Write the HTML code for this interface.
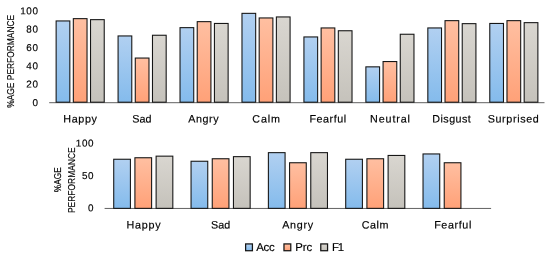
<!DOCTYPE html>
<html lang="en"><head><meta charset="utf-8"><title>Performance charts</title>
<style>
html,body{margin:0;padding:0;background:#fff;}
body{width:550px;height:257px;overflow:hidden;}
svg{display:block;}
text{font-family:"Liberation Sans",sans-serif;text-rendering:geometricPrecision;fill:#000;stroke:#000;stroke-width:0.16px;}
.bar{stroke:#151515;stroke-width:1.08;}
.ax{stroke:#505050;stroke-width:0.9;fill:none;}
.tk{font-size:9.9px;text-anchor:end;letter-spacing:0.65px;}
.cat{font-size:10.75px;}
.ttl{font-size:10.0px;text-anchor:middle;}
.lg{font-size:11.4px;}
</style></head><body>
<svg width="550" height="257" viewBox="0 0 550 257">
<defs>
<linearGradient id="gb" x1="0" y1="0" x2="0" y2="1"><stop offset="0" stop-color="#b1d0f1"/><stop offset="1" stop-color="#84bbec"/></linearGradient>
<linearGradient id="go" x1="0" y1="0" x2="0" y2="1"><stop offset="0" stop-color="#ffbfa1"/><stop offset="1" stop-color="#ffa178"/></linearGradient>
<linearGradient id="gg" x1="0" y1="0" x2="0" y2="1"><stop offset="0" stop-color="#d9d6d0"/><stop offset="1" stop-color="#c5c2bb"/></linearGradient>
</defs>
<rect width="550" height="257" fill="#ffffff"/>

<g id="top">
<line class="ax" x1="49.2" y1="102.7" x2="544.5" y2="102.7"/>
<rect class="bar" x="56.13" y="20.95" width="13.70" height="81.25" fill="url(#gb)"/>
<rect class="bar" x="73.33" y="18.65" width="13.70" height="83.55" fill="url(#go)"/>
<rect class="bar" x="90.53" y="19.65" width="13.70" height="82.55" fill="url(#gg)"/>
<text class="cat" transform="translate(63.29 122.5) rotate(0.03)" textLength="33.62" lengthAdjust="spacing">Happy</text>
<rect class="bar" x="118.08" y="35.95" width="13.70" height="66.25" fill="url(#gb)"/>
<rect class="bar" x="135.28" y="58.05" width="13.70" height="44.15" fill="url(#go)"/>
<rect class="bar" x="152.48" y="35.25" width="13.70" height="66.95" fill="url(#gg)"/>
<text class="cat" transform="translate(132.16 122.5) rotate(0.03)" textLength="19.32" lengthAdjust="spacing">Sad</text>
<rect class="bar" x="180.03" y="27.65" width="13.70" height="74.55" fill="url(#gb)"/>
<rect class="bar" x="197.23" y="21.65" width="13.70" height="80.55" fill="url(#go)"/>
<rect class="bar" x="214.43" y="23.45" width="13.70" height="78.75" fill="url(#gg)"/>
<text class="cat" transform="translate(188.19 122.5) rotate(0.03)" textLength="30.39" lengthAdjust="spacing">Angry</text>
<rect class="bar" x="241.98" y="13.35" width="13.70" height="88.85" fill="url(#gb)"/>
<rect class="bar" x="259.18" y="17.95" width="13.70" height="84.25" fill="url(#go)"/>
<rect class="bar" x="276.38" y="16.95" width="13.70" height="85.25" fill="url(#gg)"/>
<text class="cat" transform="translate(252.32 122.5) rotate(0.03)" textLength="27.55" lengthAdjust="spacing">Calm</text>
<rect class="bar" x="303.93" y="36.95" width="13.70" height="65.25" fill="url(#gb)"/>
<rect class="bar" x="321.12" y="27.95" width="13.70" height="74.25" fill="url(#go)"/>
<rect class="bar" x="338.32" y="30.75" width="13.70" height="71.45" fill="url(#gg)"/>
<text class="cat" transform="translate(309.40 122.5) rotate(0.03)" textLength="36.86" lengthAdjust="spacing">Fearful</text>
<rect class="bar" x="365.88" y="66.85" width="13.70" height="35.35" fill="url(#gb)"/>
<rect class="bar" x="383.07" y="61.55" width="13.70" height="40.65" fill="url(#go)"/>
<rect class="bar" x="400.27" y="34.25" width="13.70" height="67.95" fill="url(#gg)"/>
<text class="cat" transform="translate(370.12 122.5) rotate(0.03)" textLength="39.86" lengthAdjust="spacing">Neutral</text>
<rect class="bar" x="427.83" y="27.95" width="13.70" height="74.25" fill="url(#gb)"/>
<rect class="bar" x="445.03" y="20.65" width="13.70" height="81.55" fill="url(#go)"/>
<rect class="bar" x="462.23" y="23.65" width="13.70" height="78.55" fill="url(#gg)"/>
<text class="cat" transform="translate(432.33 122.5) rotate(0.03)" textLength="38.42" lengthAdjust="spacing">Disgust</text>
<rect class="bar" x="489.78" y="23.45" width="13.70" height="78.75" fill="url(#gb)"/>
<rect class="bar" x="506.98" y="20.65" width="13.70" height="81.55" fill="url(#go)"/>
<rect class="bar" x="524.18" y="22.65" width="13.70" height="79.55" fill="url(#gg)"/>
<text class="cat" transform="translate(487.71 122.5) rotate(0.03)" textLength="51.08" lengthAdjust="spacing">Surprised</text>
<text class="tk" transform="translate(38.6 105.90) rotate(0.03)">0</text>
<text class="tk" transform="translate(38.6 87.57) rotate(0.03)">20</text>
<text class="tk" transform="translate(38.6 69.23) rotate(0.03)">40</text>
<text class="tk" transform="translate(38.6 50.90) rotate(0.03)">60</text>
<text class="tk" transform="translate(38.6 32.56) rotate(0.03)">80</text>
<text class="tk" transform="translate(38.6 14.23) rotate(0.03)">100</text>
<text class="ttl" transform="translate(14.1 61.3) rotate(-90)" textLength="93.0" lengthAdjust="spacingAndGlyphs">%AGE PERFORMANCE</text>
</g>
<g id="bottom">
<line class="ax" x1="104.6" y1="208.45" x2="491.1" y2="208.45"/>
<rect class="bar" x="113.72" y="159.25" width="16.70" height="49.10" fill="url(#gb)"/>
<rect class="bar" x="134.91" y="157.75" width="16.70" height="50.60" fill="url(#go)"/>
<rect class="bar" x="156.12" y="156.15" width="16.70" height="52.20" fill="url(#gg)"/>
<text class="cat" transform="translate(126.54 228.55) rotate(0.03)" textLength="34.15" lengthAdjust="spacing">Happy</text>
<rect class="bar" x="191.05" y="161.25" width="16.70" height="47.10" fill="url(#gb)"/>
<rect class="bar" x="212.25" y="158.75" width="16.70" height="49.60" fill="url(#go)"/>
<rect class="bar" x="233.45" y="156.65" width="16.70" height="51.70" fill="url(#gg)"/>
<text class="cat" transform="translate(210.90 228.55) rotate(0.03)" textLength="19.33" lengthAdjust="spacing">Sad</text>
<rect class="bar" x="268.38" y="152.65" width="16.70" height="55.70" fill="url(#gb)"/>
<rect class="bar" x="289.57" y="162.75" width="16.70" height="45.60" fill="url(#go)"/>
<rect class="bar" x="310.77" y="152.65" width="16.70" height="55.70" fill="url(#gg)"/>
<text class="cat" transform="translate(282.18 228.55) rotate(0.03)" textLength="31.05" lengthAdjust="spacing">Angry</text>
<rect class="bar" x="345.71" y="159.25" width="16.70" height="49.10" fill="url(#gb)"/>
<rect class="bar" x="366.91" y="158.75" width="16.70" height="49.60" fill="url(#go)"/>
<rect class="bar" x="388.11" y="155.45" width="16.70" height="52.90" fill="url(#gg)"/>
<text class="cat" transform="translate(361.65 228.55) rotate(0.03)" textLength="26.91" lengthAdjust="spacing">Calm</text>
<rect class="bar" x="423.03" y="153.95" width="16.70" height="54.40" fill="url(#gb)"/>
<rect class="bar" x="444.23" y="162.75" width="16.70" height="45.60" fill="url(#go)"/>
<text class="cat" transform="translate(434.18 228.55) rotate(0.03)" textLength="37.11" lengthAdjust="spacing">Fearful</text>
<text class="tk" transform="translate(94.2 211.35) rotate(0.03)">0</text>
<text class="tk" transform="translate(94.2 178.95) rotate(0.03)">50</text>
<text class="tk" transform="translate(94.2 146.55) rotate(0.03)">100</text>
<text class="ttl" transform="translate(61.25 179.75) rotate(-90)" textLength="25.0" lengthAdjust="spacingAndGlyphs">%AGE</text>
<text class="ttl" transform="translate(75.2 180.2) rotate(-90)" textLength="65.7" lengthAdjust="spacingAndGlyphs">PERFORMANCE</text>
</g>
<g id="legend">
<rect class="bar" style="stroke-width:1.25" x="245.62" y="243.92" width="6.8" height="6.8" fill="url(#gb)"/>
<text class="lg" transform="translate(256.15 251) rotate(0.03)" textLength="18.66" lengthAdjust="spacing">Acc</text>
<rect class="bar" style="stroke-width:1.25" x="283.97" y="243.92" width="6.8" height="6.8" fill="url(#go)"/>
<text class="lg" transform="translate(295.25 251) rotate(0.03)" textLength="17.03" lengthAdjust="spacing">Prc</text>
<rect class="bar" style="stroke-width:1.25" x="320.77" y="243.92" width="6.8" height="6.8" fill="url(#gg)"/>
<text class="lg" transform="translate(331.92 251) rotate(0.03)" textLength="12.15" lengthAdjust="spacing">F1</text>
</g>
</svg></body></html>
